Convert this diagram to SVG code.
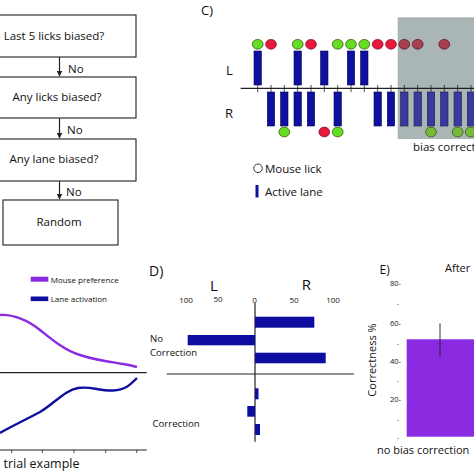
<svg xmlns="http://www.w3.org/2000/svg" width="474" height="474" viewBox="0 0 474 474">
<style>
text{font-family:"Open Sans","Liberation Sans",sans-serif;fill:#111}
.box{fill:#fff;stroke:#333;stroke-width:1.2}
.ft{font-size:11.5px;text-anchor:middle}
.no{font-size:11.5px}
.lb{fill:#0f0fa0;stroke:#06064a;stroke-width:0.6}
.lbg{fill:#3a3a9e;stroke:#1a1a4a;stroke-width:0.6}
.g{fill:#66dd22;stroke:#2f4a10;stroke-width:0.7}
.gg{fill:#78b83a;stroke:#2f4a10;stroke-width:0.7}
.r{fill:#e8193c;stroke:#7a1020;stroke-width:0.7}
.rg{fill:#a8404f;stroke:#4a1020;stroke-width:0.7}
.ax{stroke:#222;stroke-width:1.2;fill:none}
.tk{stroke:#222;stroke-width:0.8}
.db{fill:#0d0da0}
.sm{font-size:8px}
</style>
<defs>
<marker id="ah" viewBox="0 0 10 10" refX="9" refY="5" markerWidth="5" markerHeight="5" orient="auto"><path d="M0,0L10,5L0,10z" fill="#222"/></marker>
</defs>
<rect width="474" height="474" fill="#fff"/>

<!-- Panel A flowchart -->
<g id="a1"><rect class="box" x="-5" y="15" width="141" height="42"/><text class="ft" x="54" y="39.5">Last 5 licks biased?</text></g>
<g id="a2"><rect class="box" x="-5" y="77" width="141" height="41"/><text class="ft" x="57" y="100.5">Any licks biased?</text></g>
<g id="a3"><rect class="box" x="-5" y="139" width="141" height="42"/><text class="ft" x="54" y="162.5">Any lane biased?</text></g>
<g id="a4"><rect class="box" x="3" y="200" width="115" height="45"/><text class="ft" x="59" y="226">Random</text></g>
<g id="a-connectors">
<line class="ax" x1="59.5" y1="57" x2="59.5" y2="76" marker-end="url(#ah)"/>
<text class="no" x="68" y="73">No</text>
<line class="ax" x1="59.5" y1="118" x2="59.5" y2="138" marker-end="url(#ah)"/>
<text class="no" x="67" y="134">No</text>
<line class="ax" x1="59.5" y1="181" x2="59.5" y2="199" marker-end="url(#ah)"/>
<text class="no" x="66" y="196">No</text>
</g>

<!-- Panel C -->
<g id="panelC">
<text x="201" y="15" font-size="13">C)</text>
<rect x="397.7" y="17.3" width="80" height="121.7" fill="#aab6b6"/>
<text x="226" y="74.5" font-size="13">L</text>
<text x="225" y="118" font-size="13">R</text>
<line class="ax" x1="240.7" y1="88.3" x2="474" y2="88.3"/>
<g class="tk">
<line x1="257.7" y1="85" x2="257.7" y2="92"/><line x1="271" y1="85" x2="271" y2="92"/><line x1="284.3" y1="85" x2="284.3" y2="92"/><line x1="297.7" y1="85" x2="297.7" y2="92"/><line x1="311" y1="85" x2="311" y2="92"/><line x1="324.3" y1="85" x2="324.3" y2="92"/><line x1="337.7" y1="85" x2="337.7" y2="92"/><line x1="351" y1="85" x2="351" y2="92"/><line x1="364.3" y1="85" x2="364.3" y2="92"/><line x1="377.7" y1="85" x2="377.7" y2="92"/><line x1="391" y1="85" x2="391" y2="92"/><line x1="404.3" y1="85" x2="404.3" y2="92"/><line x1="417.7" y1="85" x2="417.7" y2="92"/><line x1="431" y1="85" x2="431" y2="92"/><line x1="444.3" y1="85" x2="444.3" y2="92"/><line x1="457.7" y1="85" x2="457.7" y2="92"/><line x1="471" y1="85" x2="471" y2="92"/>
</g>
<!-- L bars -->
<rect class="lb" x="254" y="51" width="7.4" height="34"/>
<rect class="lb" x="294" y="51" width="7.4" height="34"/>
<rect class="lb" x="320.6" y="51" width="7.4" height="34"/>
<rect class="lb" x="347.3" y="51" width="7.4" height="34"/>
<rect class="lb" x="360.6" y="51" width="7.4" height="34"/>
<!-- R bars -->
<rect class="lb" x="267.3" y="92" width="7.4" height="34"/>
<rect class="lb" x="280.6" y="92" width="7.4" height="34"/>
<rect class="lb" x="294" y="92" width="7.4" height="34"/>
<rect class="lb" x="307.3" y="92" width="7.4" height="34"/>
<rect class="lb" x="334" y="92" width="7.4" height="34"/>
<rect class="lb" x="374" y="92" width="7.4" height="34"/>
<rect class="lb" x="387.3" y="92" width="7.4" height="34"/>
<rect class="lbg" x="400.6" y="92" width="7.4" height="34"/>
<rect class="lbg" x="414" y="92" width="7.4" height="34"/>
<rect class="lbg" x="427.3" y="92" width="7.4" height="34"/>
<rect class="lbg" x="440.6" y="92" width="7.4" height="34"/>
<rect class="lbg" x="454" y="92" width="7.4" height="34"/>
<rect class="lbg" x="467.3" y="92" width="7.4" height="34"/>
<!-- top licks -->
<ellipse class="g" cx="257.7" cy="44.3" rx="5.4" ry="4.9"/>
<ellipse class="r" cx="271" cy="44.3" rx="5.4" ry="4.9"/>
<ellipse class="g" cx="297.7" cy="44.3" rx="5.4" ry="4.9"/>
<ellipse class="r" cx="311" cy="44.3" rx="5.4" ry="4.9"/>
<ellipse class="g" cx="337.7" cy="44.3" rx="5.4" ry="4.9"/>
<ellipse class="g" cx="351" cy="44.3" rx="5.4" ry="4.9"/>
<ellipse class="g" cx="364.3" cy="44.3" rx="5.4" ry="4.9"/>
<ellipse class="r" cx="377.7" cy="44.3" rx="5.4" ry="4.9"/>
<ellipse class="r" cx="391" cy="44.3" rx="5.4" ry="4.9"/>
<ellipse class="rg" cx="404.3" cy="44.3" rx="5.4" ry="4.9"/>
<ellipse class="rg" cx="417.7" cy="44.3" rx="5.4" ry="4.9"/>
<ellipse class="rg" cx="444.3" cy="44.3" rx="5.4" ry="4.9"/>
<!-- bottom licks -->
<ellipse class="g" cx="284.3" cy="132" rx="5.4" ry="4.9"/>
<ellipse class="r" cx="324.3" cy="132" rx="5.4" ry="4.9"/>
<ellipse class="g" cx="337.7" cy="132" rx="5.4" ry="4.9"/>
<ellipse class="gg" cx="431" cy="132" rx="5.4" ry="4.9"/>
<ellipse class="gg" cx="457.7" cy="132" rx="5.4" ry="4.9"/>
<ellipse class="gg" cx="470.7" cy="132" rx="5.4" ry="4.9"/>
<text x="413" y="151" font-size="11.5">bias correction</text>
<!-- legend -->
<circle cx="258" cy="168.3" r="4.3" fill="#fff" stroke="#222" stroke-width="0.9"/>
<text x="265" y="172.5" font-size="11.5">Mouse lick</text>
<rect x="255.5" y="185" width="3" height="12.5" fill="#0f0fa0"/>
<text x="265" y="196" font-size="11.5">Active lane</text>
</g>

<!-- Panel B -->
<g id="panelB">
<rect x="30.7" y="276.7" width="17.6" height="5" fill="#8a2be2"/>
<text x="50.7" y="283.3" font-size="8">Mouse preference</text>
<rect x="30.7" y="296.5" width="17.6" height="4.6" fill="#0d0da0"/>
<text x="50.7" y="301.5" font-size="8">Lane activation</text>
<line class="ax" x1="0" y1="372.7" x2="146.7" y2="372.7"/>
<path d="M0,315 C12,314 28,320 40,330 C50,338 65,351 80,355 C95,360 110,362 120,363.5 C128,364.5 132,365.5 137,367" fill="none" stroke="#8a2be2" stroke-width="2.4"/>
<path d="M0,433 C10,427 25,420 40,412 C55,403 65,390 78,388 C90,386 100,391 113,390.5 C125,390 130,385 137,378" fill="none" stroke="#0d0da0" stroke-width="2.4"/>
<line class="ax" x1="0" y1="450" x2="146.7" y2="450"/>
<g class="tk"><line x1="11.7" y1="450" x2="11.7" y2="453"/><line x1="42.3" y1="450" x2="42.3" y2="453"/><line x1="74" y1="450" x2="74" y2="453"/><line x1="105.7" y1="450" x2="105.7" y2="453"/><line x1="136.7" y1="450" x2="136.7" y2="453"/></g>
<text x="3.5" y="468" font-size="12.5">trial example</text>
</g>

<!-- Panel D -->
<g id="panelD">
<text x="149" y="276" font-size="14">D)</text>
<text x="214" y="291" font-size="15" text-anchor="middle">L</text>
<text x="306.5" y="289.5" font-size="15" text-anchor="middle">R</text>
<text class="sm" x="186" y="302.7" text-anchor="middle">100</text>
<text class="sm" x="218" y="302" text-anchor="middle">50</text>
<text class="sm" x="254.5" y="303" text-anchor="middle">0</text>
<text class="sm" x="294" y="302.7" text-anchor="middle">50</text>
<text class="sm" x="333" y="302.7" text-anchor="middle">100</text>
<line class="ax" x1="166.7" y1="374" x2="354" y2="374"/>
<line class="ax" x1="255" y1="303" x2="255" y2="441.7"/>
<rect class="db" x="255" y="316.7" width="59.3" height="11"/>
<rect class="db" x="187.7" y="335" width="67.3" height="10.3"/>
<rect class="db" x="255" y="352.7" width="70.7" height="10.6"/>
<rect class="db" x="255" y="388.3" width="3.5" height="11"/>
<rect class="db" x="247.3" y="406" width="7.7" height="10.7"/>
<rect class="db" x="255" y="424" width="5" height="11"/>
<text x="150" y="342" font-size="9.6">No</text>
<text x="150" y="355.5" font-size="9.6">Correction</text>
<text x="152.5" y="426.5" font-size="9.6">Correction</text>
</g>

<!-- Panel E -->
<g id="panelE">
<text x="379.5" y="273.5" font-size="12">E)</text>
<text x="445" y="272" font-size="11">After</text>
<g font-size="7.5" text-anchor="end">
<text x="401" y="286">80-</text>
<text x="399" y="305">.</text>
<text x="401" y="325.5">60-</text>
<text x="399" y="344.5">.</text>
<text x="401" y="364">40-</text>
<text x="399" y="382">.</text>
<text x="401" y="402">20-</text>
<text x="399" y="420.5">.</text>
<text x="399" y="439">.</text>
</g>
<text transform="translate(375.5,360) rotate(-90)" font-size="11" text-anchor="middle">Correctness %</text>
<rect x="406.7" y="339.3" width="70" height="97.4" fill="#8a2be2"/>
<line x1="440" y1="323.3" x2="440" y2="356.7" stroke="#222" stroke-width="0.9"/>
<text x="377" y="453.5" font-size="11">no bias correction</text>
</g>
</svg>
